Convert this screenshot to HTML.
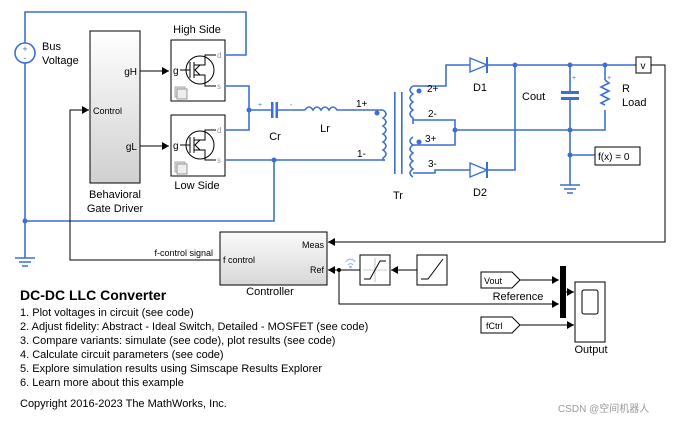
<!DOCTYPE html>
<html><head><meta charset="utf-8"><style>
body{margin:0;background:#fff}
svg{display:block;font-family:"Liberation Sans",Arial,sans-serif}
</style></head><body>
<svg width="675" height="422" viewBox="0 0 675 422" xmlns="http://www.w3.org/2000/svg">
<defs>
<linearGradient id="g1" x1="0" y1="0" x2="0" y2="1"><stop offset="0" stop-color="#fff"/><stop offset="1" stop-color="#d0d0d0"/></linearGradient>
<linearGradient id="g2" x1="0" y1="0" x2="0" y2="1"><stop offset="0" stop-color="#fafafa"/><stop offset="1" stop-color="#d8d8d8"/></linearGradient>
<marker id="ar" markerWidth="8" markerHeight="8" refX="7" refY="4" orient="auto" markerUnits="userSpaceOnUse"><path d="M0,0 L7,4 L0,8z" fill="#000"/></marker>
</defs>
<g fill="none" stroke="#3b6fd4" stroke-width="1.6">
<!-- bus voltage loop -->
<path d="M25,43 V12 H246 V55 H226"/>
<path d="M25,63 V258"/>
<path d="M25,221 H274 V160"/>
<path d="M226,86 H249 V130 H226"/>
<path d="M249,110 H271 M277,110 H305"/>
<path d="M305,110 q4,-6 8,0 q4,-6 8,0 q4,-6 8,0 q4,-6 8,0 H383"/>
<path d="M226,160 H385"/>
<!-- transformer primary -->
<path d="M383,110 q6,4 0,8 q6,4 0,8 q6,4 0,8 q6,4 0,8 q6,4 0,8 q6,4 0,8 V160 H385"/>
<path d="M413,86 q-6,4 0,8 q-6,4 0,8 q-6,4 0,8 q-6,4 0,8 V124 M413,137 q-6,4 0,8 q-6,4 0,8 q-6,4 0,8 q-6,4 0,8 q-6,4 0,8"/>
<path d="M413,86 H446 V65 H470 M487,65 H651"/>
<path d="M413,120 H455 V145 H413"/>
<path d="M455,130 H605 V112"/>
<path d="M413,173 H435 V170 H470 M487,170 H515 V65"/>
<path d="M570,65 V92 M570,100 V185"/>
<path d="M605,65 V80 M605,110 V112"/>
<path d="M605,80 l4,3 l-8,4 l8,4 l-8,4 l8,4 l-8,4 l4,2"/>
<path d="M570,155 H595"/>
<path d="M560,185 H580 M564,189 H576 M567,193 H573"/>
<path d="M15,258 H35 M19,262 H31 M22,266 H28"/>
</g>
<g fill="#3b6fd4">
<rect x="271" y="102" width="2.5" height="16"/><rect x="275.5" y="102" width="2.5" height="16"/>
<rect x="561" y="91" width="18" height="3"/><rect x="561" y="97" width="18" height="3"/>
<path d="M470,58 L487,65 L470,72z" fill="#fff" stroke="#3b6fd4" stroke-width="1.4"/><rect x="486" y="57" width="2" height="16"/>
<path d="M470,163 L487,170 L470,177z" fill="#fff" stroke="#3b6fd4" stroke-width="1.4"/><rect x="486" y="162" width="2" height="16"/>
<circle cx="25" cy="221" r="2.5"/><circle cx="274" cy="160" r="2.5"/><circle cx="249" cy="110" r="2.5"/>
<circle cx="455" cy="130" r="2.5"/><circle cx="515" cy="65" r="2.5"/><circle cx="570" cy="65" r="2.5"/><circle cx="605" cy="65" r="2.5"/><circle cx="570" cy="130" r="2.5"/><circle cx="570" cy="155" r="2.5"/>
<circle cx="377" cy="113" r="2.5"/><circle cx="419" cy="91" r="2.5"/><circle cx="419" cy="142" r="2.5"/>
<rect x="394" y="92" width="1.6" height="82"/><rect x="401" y="92" width="1.6" height="82"/>
</g>
<circle cx="25" cy="53" r="10" fill="#fff" stroke="#3b6fd4" stroke-width="1.6"/>
<text x="25" y="52" font-size="9" fill="#3b6fd4" text-anchor="middle">+</text>
<text x="25" y="61" font-size="9" fill="#3b6fd4" text-anchor="middle">-</text>
<!-- blocks -->
<rect x="90" y="31" width="50" height="152" fill="url(#g1)" stroke="#000" stroke-width="1"/>
<rect x="171" y="40" width="54" height="61" fill="#fff" stroke="#000"/>
<rect x="171" y="115" width="54" height="61" fill="#fff" stroke="#000"/>
<g stroke="#000" fill="none" stroke-width="1">
<circle cx="200" cy="70" r="14"/><circle cx="200" cy="145" r="14"/>
<path d="M180,70 H190 M190,62 V78 M194,62 V78 M194,65 H205 V55 H216 M194,75 H205 V86 H216 M200,65 l-5,5 l5,5"/>
<path d="M180,145 H190 M190,137 V153 M194,137 V153 M194,140 H205 V130 H216 M194,150 H205 V160 H216 M200,140 l-5,5 l5,5"/>
</g>
<rect x="175" y="87" width="10" height="10" fill="#ddd" stroke="#aaa"/><rect x="177" y="89" width="10" height="10" fill="#eee" stroke="#999"/>
<rect x="175" y="162" width="10" height="10" fill="#ddd" stroke="#aaa"/><rect x="177" y="164" width="10" height="10" fill="#eee" stroke="#999"/>
<g stroke="#000" stroke-width="1" fill="none">
<path d="M140,71 H169" marker-end="url(#ar)"/>
<path d="M140,146 H169" marker-end="url(#ar)"/>
<path d="M220,260 H70 V110 H89" marker-end="url(#ar)"/>
<path d="M651,65 H665 V242 H328" marker-end="url(#ar)"/>
<path d="M360,270 H328" marker-end="url(#ar)"/>
<path d="M417,270 H391" marker-end="url(#ar)"/>
<path d="M339,270 V304 H559" marker-end="url(#ar)"/>
<path d="M520,280 H559" marker-end="url(#ar)"/>
<path d="M520,325 H574" marker-end="url(#ar)"/>
<path d="M566,292 H574" marker-end="url(#ar)"/>
</g>
<circle cx="339" cy="270" r="2" fill="#000"/>
<rect x="220" y="232" width="107" height="53" fill="url(#g2)" stroke="#000"/>
<rect x="360" y="255" width="30" height="30" fill="#fff" stroke="#000"/>
<path d="M363,270 H387 M375,258 V282 " stroke="#999" stroke-width="0.6"/>
<path d="M364,279 H370 L380,261 H386" stroke="#000" fill="none"/>
<rect x="417" y="255" width="30" height="30" fill="#fff" stroke="#000"/>
<path d="M421,279 H428 L443,259" stroke="#000" fill="none"/>
<rect x="560" y="266" width="6" height="52" fill="#000"/>
<rect x="575" y="282" width="30" height="60" fill="#fff" stroke="#000"/>
<rect x="582" y="290" width="16" height="24" rx="2" fill="#fff" stroke="#000"/>
<path d="M481,272 H512 L520,280 L512,288 H481z" fill="#fff" stroke="#000"/>
<path d="M481,317 H512 L520,325 L512,333 H481z" fill="#fff" stroke="#000"/>
<rect x="636" y="57" width="15" height="16" fill="#fff" stroke="#000"/>
<rect x="595" y="147" width="45" height="18" fill="#fff" stroke="#000"/>
<path d="M346,262 a5,5 0 0 1 9,0 M348,265 a3,3 0 0 1 5,0" stroke="#8ab4e8" fill="none"/>
<circle cx="350.5" cy="267" r="1.3" fill="#8ab4e8"/>
<!-- text -->
<g font-size="11" fill="#000">
<text x="42" y="50">Bus</text><text x="42" y="64">Voltage</text>
<text x="197" y="33" text-anchor="middle">High Side</text>
<text x="197" y="189" text-anchor="middle">Low Side</text>
<text x="115" y="198" text-anchor="middle">Behavioral</text>
<text x="115" y="212" text-anchor="middle">Gate Driver</text>
<text x="137" y="75" text-anchor="end" font-size="10">gH</text>
<text x="137" y="150" text-anchor="end" font-size="10">gL</text>
<text x="93" y="114" font-size="9">Control</text>
<text x="173" y="74" font-size="10">g</text><text x="173" y="149" font-size="10">g</text>
<text x="275" y="140" text-anchor="middle">Cr</text>
<text x="325" y="132" text-anchor="middle">Lr</text>
<text x="356" y="107" font-size="10">1+</text><text x="357" y="157" font-size="10">1-</text>
<text x="427" y="92" font-size="10">2+</text><text x="428" y="117" font-size="10">2-</text><text x="425" y="142" font-size="10">3+</text><text x="428" y="167" font-size="10">3-</text>
<text x="398" y="199" text-anchor="middle">Tr</text>
<text x="480" y="91" text-anchor="middle">D1</text>
<text x="480" y="196" text-anchor="middle">D2</text>
<text x="522" y="100">Cout</text>
<text x="622" y="92">R</text><text x="622" y="106">Load</text>
<text x="643" y="69" text-anchor="middle" font-size="10">v</text>
<text x="598" y="160" font-size="10">f(x) = 0</text>
<text x="213" y="256" text-anchor="end" font-size="9">f-control signal</text>
<text x="223" y="263" font-size="9">f control</text>
<text x="324" y="248" text-anchor="end" font-size="9">Meas</text>
<text x="324" y="273" text-anchor="end" font-size="9">Ref</text>
<text x="270" y="295" text-anchor="middle">Controller</text>
<text x="484" y="284" font-size="9">Vout</text>
<text x="486" y="329" font-size="9">fCtrl</text>
<text x="518" y="300" text-anchor="middle">Reference</text>
<text x="591" y="353" text-anchor="middle">Output</text>
<text x="20" y="300" font-size="14" font-weight="bold">DC-DC LLC Converter</text>
<text x="20" y="316">1. Plot voltages in circuit (see code)</text>
<text x="20" y="330">2. Adjust fidelity: Abstract - Ideal Switch, Detailed - MOSFET (see code)</text>
<text x="20" y="344">3. Compare variants: simulate (see code), plot results (see code)</text>
<text x="20" y="358">4. Calculate circuit parameters (see code)</text>
<text x="20" y="372">5. Explore simulation results using Simscape Results Explorer</text>
<text x="20" y="386">6. Learn more about this example</text>
<text x="20" y="407">Copyright 2016-2023 The MathWorks, Inc.</text>
<text x="558" y="412" font-size="10" fill="#999" font-family="'Liberation Sans','Noto Sans CJK SC',sans-serif">CSDN @空间机器人</text>
</g>
<g font-size="8" fill="#999">
<text x="217" y="58">d</text><text x="217" y="89">s</text><text x="217" y="133">d</text><text x="217" y="163">s</text>
</g>
<g font-size="7" fill="#3b6fd4">
<text x="258" y="107">+</text><text x="290" y="107">-</text><text x="572" y="80">+</text><text x="607" y="80">+</text>
</g>
</svg>
</body></html>
